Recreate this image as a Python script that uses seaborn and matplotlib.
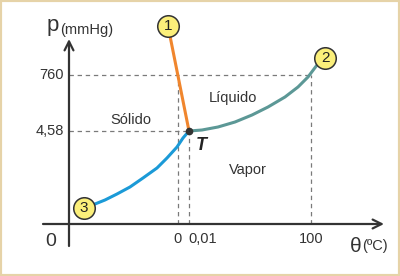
import matplotlib
matplotlib.use("Agg")
import matplotlib.pyplot as plt
import seaborn as sns
import pandas as pd

# ---- data (schematic diagram units; origin at axes crossing) ----
fusion_x = [99, 120]
fusion_y = [198, 93]
vapor_x = [120, 133, 149, 166, 183, 199, 216, 229, 239, 248, 256]
vapor_y = [93, 94, 97, 102, 109, 117, 127, 137, 147, 159, 166]
subl_x = [15, 26, 36, 48, 61, 74, 88, 98, 108, 114, 120]
subl_y = [16, 20, 24, 30, 37, 46, 56, 66, 77, 86, 93]

triple_x, triple_y = 120, 93
circle_x = [99, 256, 15]
circle_y = [198, 166, 16]
circle_labels = ["1", "2", "3"]

x_tick_pos = [109, 120, 242]
x_tick_labels = ["0", "0,01", "100"]
y_tick_pos = [149, 93]
y_tick_labels = ["760", "4,58"]

region_labels = ["Sólido", "Líquido", "Vapor"]
region_x = [62, 164, 179]
region_y = [104, 126, 54]

sns.set_style("white")
plt.rcParams['font.family'] = ['Liberation Sans', 'DejaVu Sans']

fig = plt.figure(figsize=(4, 2.76), dpi=100)
ax = fig.add_axes([0, 0, 1, 1])
ax.set_xlim(-69, 331)
ax.set_ylim(-52, 224)
ax.axis('off')

# border
fig.patches.append(plt.Rectangle((0, 0), 1, 1, transform=fig.transFigure,
                                 fill=False, edgecolor='#E6D3A8', lw=3))

# dashed guides
dash = dict(color='#7a7a7a', lw=0.9, ls=(0, (3.5, 3)), zorder=1)
ax.plot([0, x_tick_pos[2]], [y_tick_pos[0]] * 2, **dash)
ax.plot([0, triple_x], [y_tick_pos[1]] * 2, **dash)
ax.plot([x_tick_pos[0]] * 2, [0, y_tick_pos[0]], **dash)
ax.plot([x_tick_pos[1]] * 2, [0, triple_y], **dash)
ax.plot([x_tick_pos[2]] * 2, [0, y_tick_pos[0]], **dash)

# axes arrows
axc = '#333333'
ax.annotate('', xy=(315, 0), xytext=(-26, 0),
            arrowprops=dict(arrowstyle='->', lw=1.6, color=axc, mutation_scale=16,
                            shrinkA=0, shrinkB=0), zorder=2)
ax.annotate('', xy=(0, 185), xytext=(0, -22),
            arrowprops=dict(arrowstyle='->', lw=1.6, color=axc, mutation_scale=16,
                            shrinkA=0, shrinkB=0), zorder=2)

# curves
sns.lineplot(x=fusion_x, y=fusion_y, sort=False, color='#F0862E', lw=2.2, ax=ax, zorder=3)
sns.lineplot(x=vapor_x, y=vapor_y, sort=False, color='#5C9896', lw=2.2, ax=ax, zorder=3)
sns.lineplot(x=subl_x, y=subl_y, sort=False, color='#1B9AD7', lw=2.2, ax=ax, zorder=3)

# triple point
ax.plot([triple_x], [triple_y], 'o', color='#333333', ms=4.5, zorder=5)
ax.text(triple_x + 12, triple_y - 14, "T", fontsize=13, fontweight='bold',
        fontstyle='italic', color='#222222', ha='center', va='center')

# numbered circles
df = pd.DataFrame({"x": circle_x, "y": circle_y, "lab": circle_labels})
sns.scatterplot(data=df, x="x", y="y", s=240, color='#FBEF7A', edgecolor='#333333',
                linewidth=1.1, ax=ax, zorder=6, legend=False)
for cx, cy, lab in zip(circle_x, circle_y, circle_labels):
    ax.text(cx, cy, lab, fontsize=11, ha='center', va='center', color='#222222', zorder=7)

# tick labels
txtc = '#333333'
for xp, lab in zip(x_tick_pos, x_tick_labels):
    ha = 'left' if lab == "0,01" else 'center'
    xo = xp - 1 if lab == "0,01" else xp
    ax.text(xo, -15, lab, fontsize=10.5, ha=ha, va='center', color=txtc)
for yp, lab in zip(y_tick_pos, y_tick_labels):
    ax.text(-5, yp, lab, fontsize=10.5, ha='right', va='center', color=txtc)

ax.text(-18, -17, "0", fontsize=14, ha='center', va='center', color=txtc)

# axis titles
ax.text(-22, 193, "p", fontsize=16, ha='left', va='baseline', color=txtc)
ax.text(-9, 194, "(mmHg)", fontsize=10.5, ha='left', va='center', color=txtc)
ax.text(281, -22, "θ", fontsize=15, ha='left', va='center', color=txtc)
ax.text(293, -22, "(ºC)", fontsize=10.5, ha='left', va='center', color=txtc)

# region labels
for lab, rx, ry in zip(region_labels, region_x, region_y):
    ax.text(rx, ry, lab, fontsize=10.5, ha='center', va='center', color=txtc)

fig.savefig("out.png", dpi=100)
